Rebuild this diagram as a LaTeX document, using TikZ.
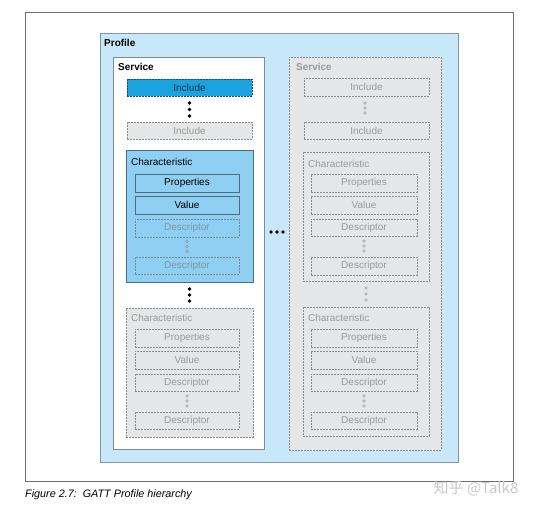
\documentclass[tikz,border=0pt]{standalone}
\usepackage{fontspec}
\setmainfont{Liberation Sans}
\newfontfamily\cjkfont{Noto Sans CJK SC}
\definecolor{frameC}{HTML}{707070}
\definecolor{profFill}{HTML}{C8E7F9}
\definecolor{profDraw}{HTML}{7E97A6}
\definecolor{svcDraw}{HTML}{7D8C96}
\definecolor{incBlue}{HTML}{1AA3DE}
\definecolor{incDraw}{HTML}{1F4760}
\definecolor{incText}{HTML}{12324A}
\definecolor{charBlue}{HTML}{8ECFF2}
\definecolor{charDraw}{HTML}{4C6C80}
\definecolor{blueDesc}{HTML}{6F8A9A}
\definecolor{blueDescText}{HTML}{7C98AA}
\definecolor{grayFill}{HTML}{E5E6E7}
\definecolor{grayDraw}{HTML}{8C8C8C}
\definecolor{grayText}{HTML}{9A9A9A}
\definecolor{wmC}{HTML}{C8C8C8}
\tikzset{
  bx/.style={rectangle, inner sep=0pt, line width=0.6pt, font=\fontsize{10}{12}\selectfont},
  fdash/.style={dash pattern=on 1.8pt off 1.2pt},
  solidblue/.style={bx, draw=charDraw, fill=charBlue, text=black},
  bluedesc/.style={bx, draw=blueDesc, fdash, fill=charBlue, text=blueDescText},
  graybox/.style={bx, draw=grayDraw, fdash, fill=grayFill, text=grayText},
  lbl/.style={anchor=west, inner sep=0pt, font=\fontsize{10}{12}\selectfont},
  blbl/.style={lbl, font=\fontsize{10}{12}\selectfont\bfseries},
  bigdot/.style={circle, fill=black, inner sep=0pt, minimum size=3.8pt},
  smalldot/.style={circle, draw=grayDraw, line width=0.4pt, inner sep=0pt, minimum size=2.8pt},
}
\begin{document}
\begin{tikzpicture}[x=1pt,y=-1pt]
\useasboundingbox (0,0) rectangle (537,511);
% outer frame
\node[rectangle, draw=frameC, line width=0.8pt, minimum width=488pt, minimum height=469pt, inner sep=0pt] (frame) at (269,246.5) {};
% profile
\node[rectangle, draw=profDraw, fill=profFill, line width=0.8pt, minimum width=358pt, minimum height=429pt, inner sep=0pt] (profile) at (279,247.5) {};
\node[blbl] (proflbl) at (104,43) {Profile};
% left service
\node[rectangle, draw=svcDraw, fill=white, line width=0.8pt, minimum width=151pt, minimum height=392pt, inner sep=0pt] (svcL) at (188.5,253) {};
\node[blbl] (svcLlbl) at (118,67) {Service};
\node[bx, draw=incDraw, fdash, fill=incBlue, text=incText, minimum width=125pt, minimum height=17pt] (incA) at (189.5,87.5) {Include};
\node[bigdot] (dA1) at (189.5,103) {};
\node[bigdot] (dA2) at (189.5,109.5) {};
\node[bigdot] (dA3) at (189.5,116) {};
\node[graybox, minimum width=125pt, minimum height=17pt] (incB) at (189.5,130.5) {Include};
% characteristic A (blue)
\node[bx, draw=charDraw, fill=charBlue, minimum width=127pt, minimum height=132pt] (charA) at (189.5,216) {};
\node[lbl] (charAlbl) at (131,162) {Characteristic};
\node[solidblue, minimum width=104pt, minimum height=18pt] (propA) at (187,183) {Properties};
\node[solidblue, minimum width=104pt, minimum height=18pt] (valA) at (187,205) {Value};
\node[bluedesc, minimum width=104pt, minimum height=18pt] (descA1) at (187,228) {Descriptor};
\node[smalldot] (sA1) at (187,241.5) {};
\node[smalldot] (sA2) at (187,246.5) {};
\node[smalldot] (sA3) at (187,251.5) {};
\node[bluedesc, minimum width=104pt, minimum height=17pt] (descA2) at (187,265.5) {Descriptor};
\node[bigdot] (dB1) at (189.5,289) {};
\node[bigdot] (dB2) at (189.5,295) {};
\node[bigdot] (dB3) at (189.5,301) {};
% characteristic B (gray)
\node[graybox, minimum width=127pt, minimum height=129pt] (charB) at (189.5,372.5) {};
\node[lbl, text=grayText] (charBlbl) at (131,318) {Characteristic};
\node[graybox, minimum width=104pt, minimum height=18pt] (propB) at (187,338) {Properties};
\node[graybox, minimum width=104pt, minimum height=18pt] (valB) at (187,360) {Value};
\node[graybox, minimum width=104pt, minimum height=17pt] (descB1) at (187,382.5) {Descriptor};
\node[smalldot] (sB1) at (187,396) {};
\node[smalldot] (sB2) at (187,401) {};
\node[smalldot] (sB3) at (187,406) {};
\node[graybox, minimum width=104pt, minimum height=17pt] (descB2) at (187,420.5) {Descriptor};
% horizontal dots
\node[bigdot] (h1) at (271,232) {};
\node[bigdot] (h2) at (277,232) {};
\node[bigdot] (h3) at (283,232) {};
% right service
\node[graybox, minimum width=152pt, minimum height=393pt] (svcR) at (365,253.5) {};
\node[blbl, text=grayText] (svcRlbl) at (296,67) {Service};
\node[graybox, minimum width=125pt, minimum height=18pt] (incR1) at (366.5,87) {Include};
\node[smalldot] (sR1) at (365,103) {};
\node[smalldot] (sR2) at (365,108) {};
\node[smalldot] (sR3) at (365,113) {};
\node[graybox, minimum width=125pt, minimum height=17pt] (incR2) at (366.5,130.5) {Include};
% right char 1
\node[graybox, minimum width=126pt, minimum height=129pt] (charR1) at (366,216.5) {};
\node[lbl, text=grayText] (charR1lbl) at (308,164) {Characteristic};
\node[graybox, minimum width=106pt, minimum height=18pt] (propR1) at (364,183) {Properties};
\node[graybox, minimum width=106pt, minimum height=18pt] (valR1) at (364,205) {Value};
\node[graybox, minimum width=106pt, minimum height=17pt] (descR1a) at (364,227.5) {Descriptor};
\node[smalldot] (sR4) at (364,241) {};
\node[smalldot] (sR5) at (364,246) {};
\node[smalldot] (sR6) at (364,251) {};
\node[graybox, minimum width=106pt, minimum height=18pt] (descR1b) at (364,266) {Descriptor};
\node[smalldot] (sR7) at (366,288) {};
\node[smalldot] (sR8) at (366,294) {};
\node[smalldot] (sR9) at (366,300) {};
% right char 2
\node[graybox, minimum width=126pt, minimum height=129pt] (charR2) at (366,371.5) {};
\node[lbl, text=grayText] (charR2lbl) at (308,318) {Characteristic};
\node[graybox, minimum width=106pt, minimum height=18pt] (propR2) at (364,338) {Properties};
\node[graybox, minimum width=106pt, minimum height=18pt] (valR2) at (364,360) {Value};
\node[graybox, minimum width=106pt, minimum height=17pt] (descR2a) at (364,382.5) {Descriptor};
\node[smalldot] (sR10) at (364,396) {};
\node[smalldot] (sR11) at (364,401) {};
\node[smalldot] (sR12) at (364,406) {};
\node[graybox, minimum width=106pt, minimum height=17pt] (descR2b) at (364,420.5) {Descriptor};
% caption
\node[anchor=west, inner sep=0pt, font=\fontsize{10.8}{12}\selectfont\itshape] (caption) at (25,495) {Figure 2.7:\ \ GATT Profile hierarchy};
% watermark
\node[inner sep=0pt, text=wmC, font=\fontsize{15}{16}\selectfont\cjkfont] (wm) at (476,488) {知乎 @Talk8};
\end{tikzpicture}
\end{document}
